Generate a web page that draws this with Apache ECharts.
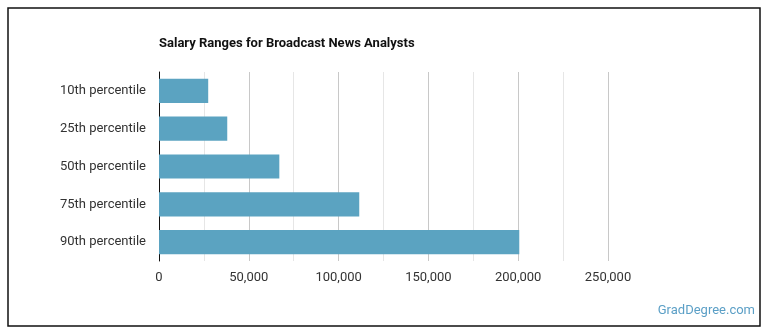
<!DOCTYPE html>
<html>
<head>
<meta charset="utf-8">
<script src="https://cdn.jsdelivr.net/npm/echarts@6/dist/echarts.min.js"></script>
<style>
html,body{margin:0;padding:0;background:#fff;}
#chart{width:770px;height:335px;}
</style>
</head>
<body>
<div id="chart"></div>
<script>
const categories = ['10th percentile', '25th percentile', '50th percentile', '75th percentile', '90th percentile'];
const salaries = [27400, 38000, 67000, 111500, 200600];
const titleText = 'Salary Ranges for Broadcast News Analysts';
const sourceText = 'GradDegree.com';

const chart = echarts.init(document.getElementById('chart'), null, {renderer: 'canvas'});
chart.setOption({
  animation: false,
  backgroundColor: '#fff',
  title: {
    text: titleText,
    left: 159,
    top: 37,
    padding: 0,
    textStyle: {fontFamily: 'Roboto', fontWeight: 'bold', fontSize: 13, color: '#111'}
  },
  graphic: [
    {type: 'rect', shape: {x: 8, y: 8, width: 752, height: 318}, style: {fill: 'none', stroke: '#111', lineWidth: 1.5}, silent: true},
    {type: 'text', right: 15, top: 304, style: {text: sourceText, font: '13px Roboto', fill: '#5b9fc6'}}
  ],
  grid: {left: 159, top: 72, width: 449, height: 189, containLabel: false},
  xAxis: {
    type: 'value',
    min: 0, max: 250000, interval: 25000,
    axisLine: {show: false},
    axisTick: {show: false},
    axisLabel: {
      fontFamily: 'Roboto', fontSize: 13, color: '#333', margin: 10,
      formatter: v => (v % 50000 === 0 ? v.toLocaleString('en-US') : '')
    },
    splitLine: {lineStyle: {color: ['#c8c8c8', '#e6e6e6'], width: 1}}
  },
  yAxis: {
    type: 'category',
    data: categories,
    inverse: true,
    axisLine: {lineStyle: {color: '#111', width: 1}},
    axisTick: {show: false},
    axisLabel: {fontFamily: 'Roboto', fontSize: 13, color: '#333', margin: 13, padding: [3, 0, 0, 0]}
  },
  series: [{
    type: 'bar',
    data: salaries,
    barCategoryGap: '36%',
    itemStyle: {color: '#5ba3c1'},
    silent: true
  }]
});
</script>
</body>
</html>
